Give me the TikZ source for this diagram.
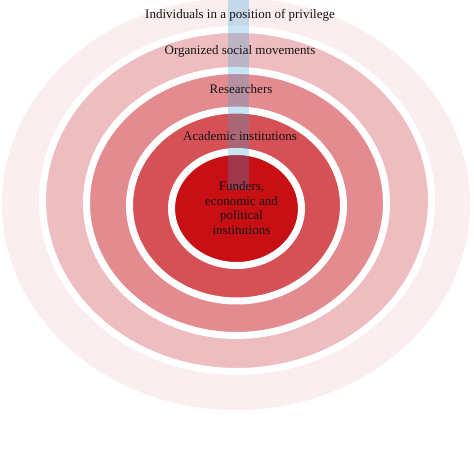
\documentclass[tikz,border=0pt]{standalone}
\usepackage{fontspec}
\setmainfont{Liberation Serif}
\definecolor{ringA}{HTML}{FAEEEE}
\definecolor{ringB}{HTML}{EDBDBF}
\definecolor{ringC}{HTML}{E38B8F}
\definecolor{ringD}{HTML}{D55155}
\definecolor{ringE}{HTML}{C70F14}
\definecolor{barblue}{HTML}{3AA2D6}
\definecolor{txt}{HTML}{141414}
\tikzset{
  ringfill/.style={fill=#1, draw=white, line width=7pt},
  lbl/.style={text=txt, font=\fontsize{13}{14.8}\selectfont, inner sep=0pt, align=center},
}
\begin{document}
\begin{tikzpicture}[x=1pt,y=-1pt]
\useasboundingbox (0,0) rectangle (474,474);
\fill[white] (0,0) rectangle (474,474);
% rings
\fill[ringA] (236,204) ellipse [x radius=234pt, y radius=206pt];
\filldraw[ringfill=ringB] (237,200.5) ellipse [x radius=194.5pt, y radius=171pt];
\filldraw[ringfill=ringC] (236.5,203) ellipse [x radius=150pt, y radius=132.5pt];
\filldraw[ringfill=ringD] (236.5,205.5) ellipse [x radius=107pt, y radius=95.5pt];
\filldraw[ringfill=ringE] (236.5,208.5) ellipse [x radius=65pt, y radius=57pt];
% translucent bar
\fill[barblue, opacity=0.28] (228,0) rectangle (249,190);
% labels
\node[lbl] (l1) at (240,15.5) {Individuals in a position of privilege};
\node[lbl] (l2) at (240,51.5) {Organized social movements};
\node[lbl] (l3) at (241,89.5) {Researchers};
\node[lbl] (l4) at (240,136.5) {Academic institutions};
\node[lbl] (l5) at (241.5,208) {Funders,\\economic and\\political\\institutions};
\end{tikzpicture}
\end{document}
